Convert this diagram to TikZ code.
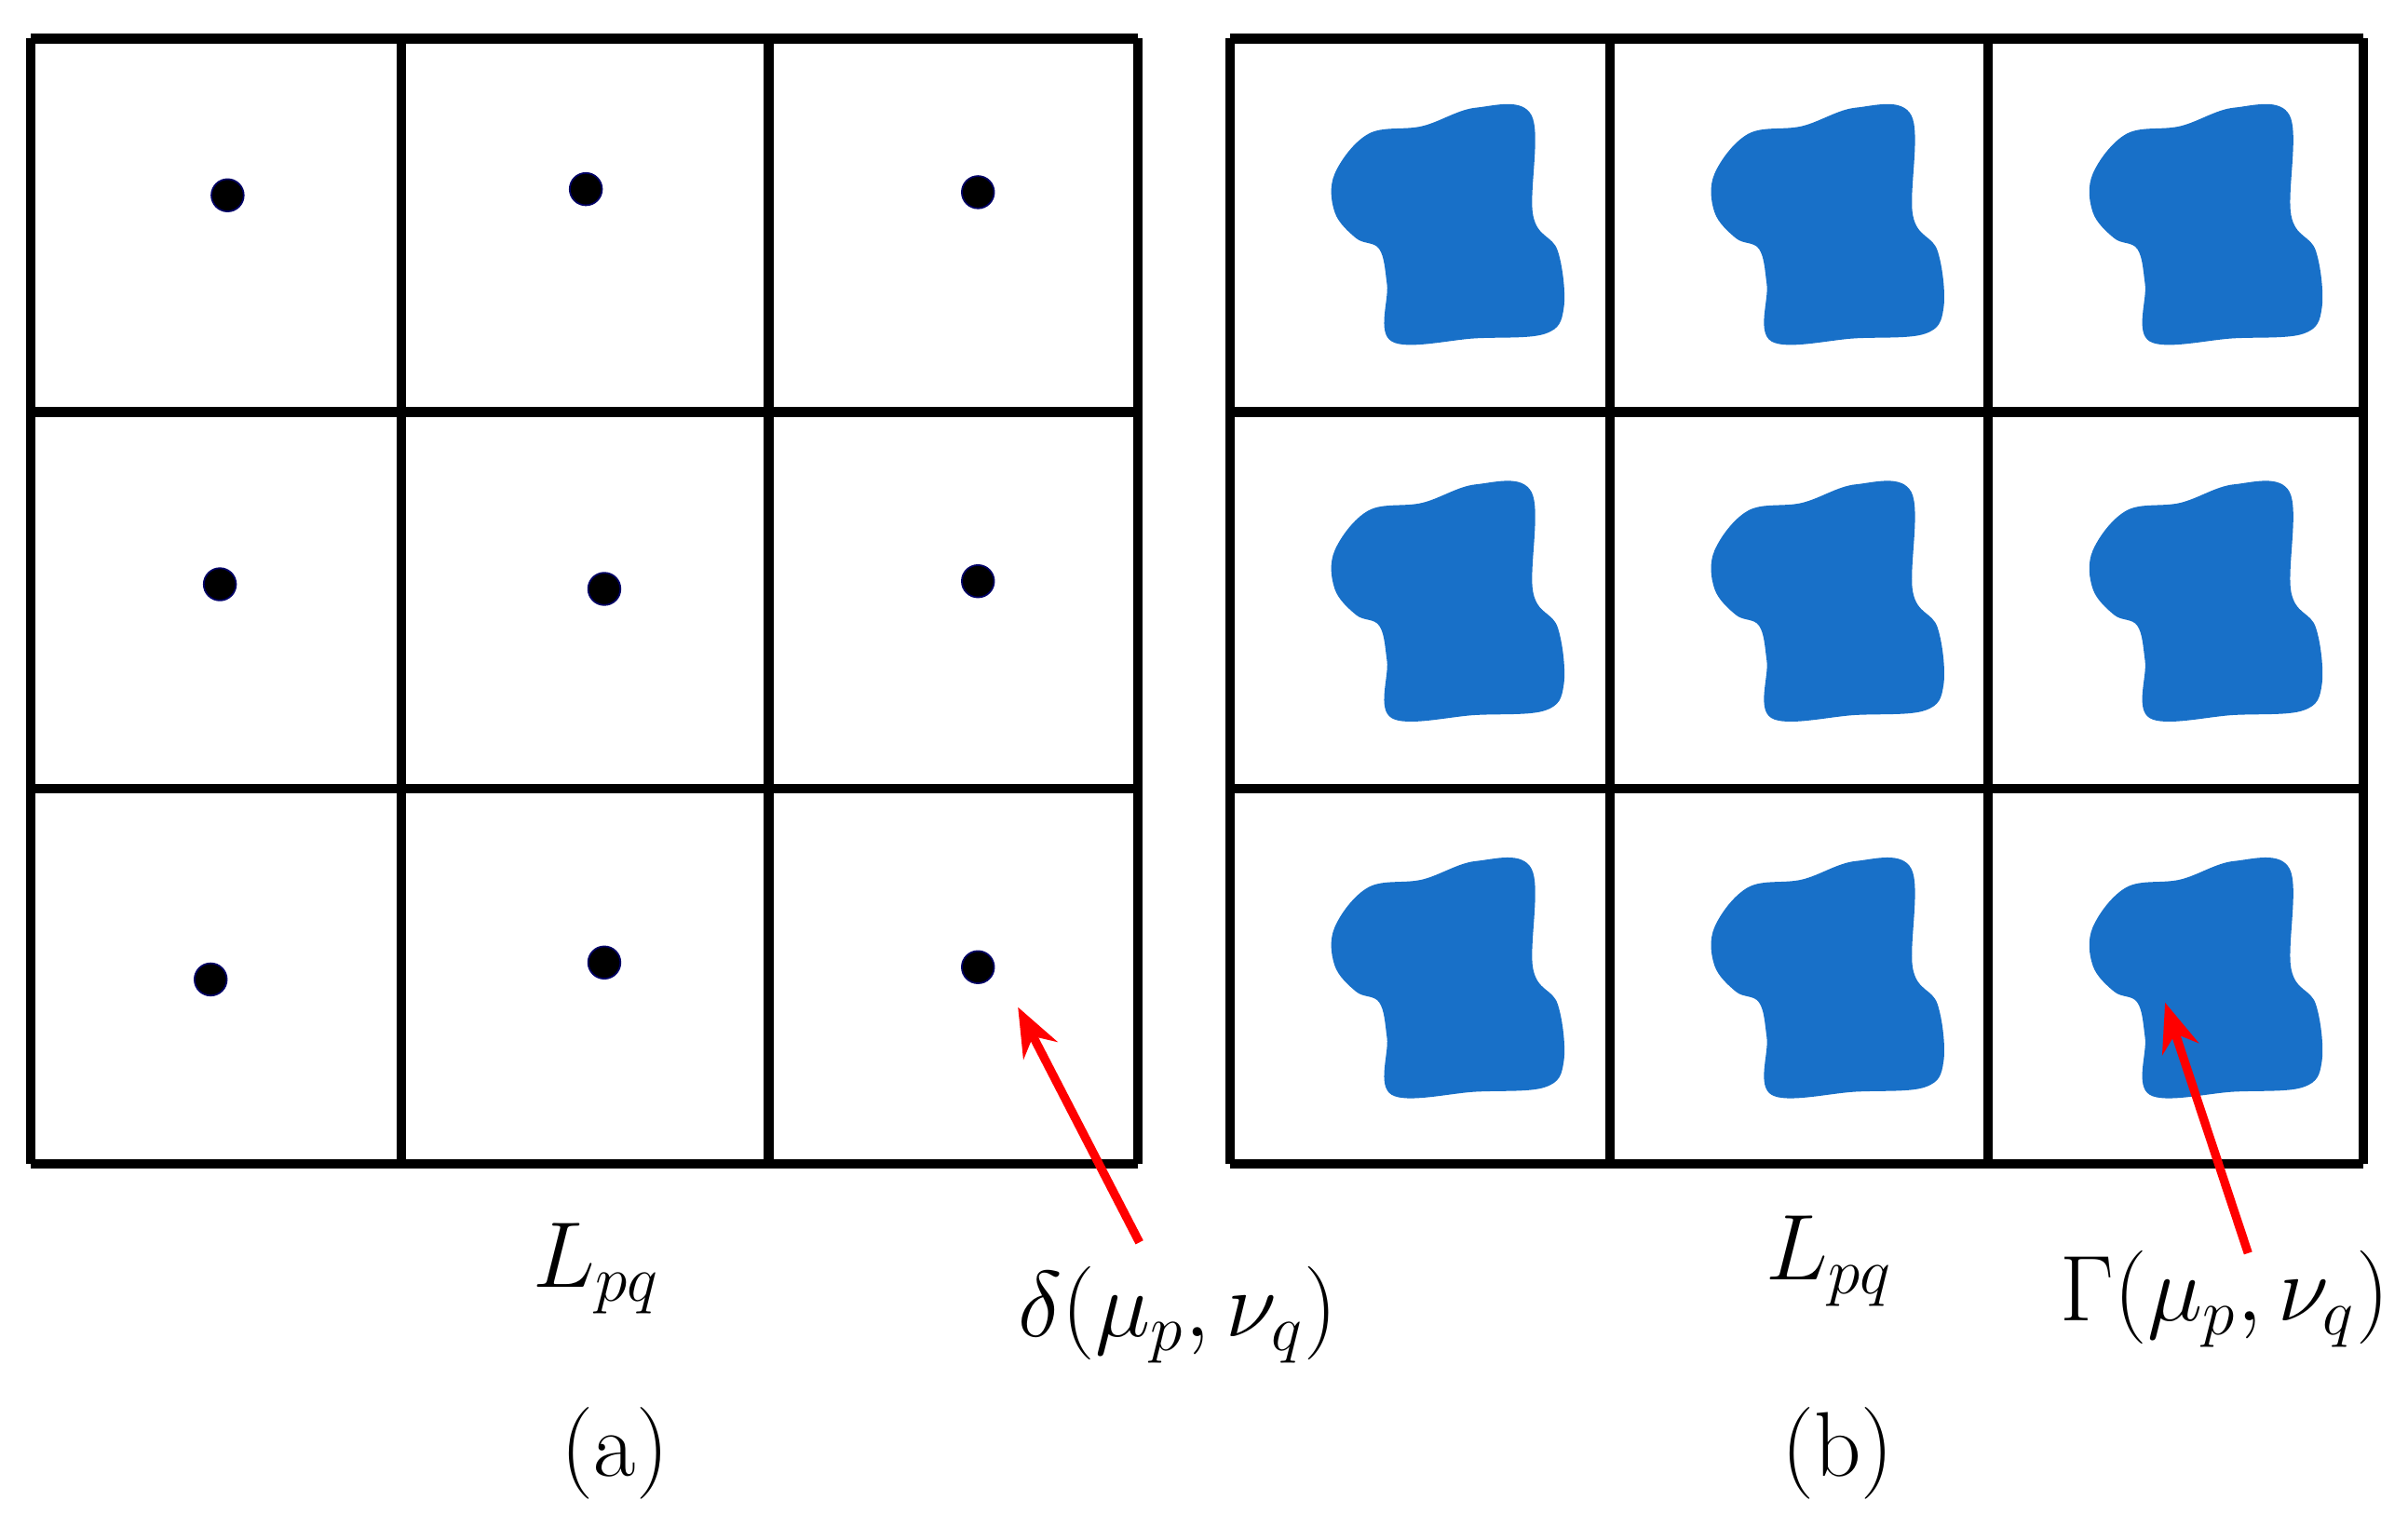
\documentclass[tikz,border=0pt]{standalone}
\usetikzlibrary{arrows.meta}
\definecolor{blobblue}{RGB}{24,112,200}
\begin{document}
\begin{tikzpicture}[x=0.01cm,y=-0.01cm,
  gridline/.style={line width=1.8pt,black},
  dotmark/.style={fill=black,draw=blue!40!black,line width=0.3pt},
  blob/.style={fill=blobblue,draw=none},
  redarrow/.style={red,line width=1.6pt,-{Stealth[length=9pt,width=7pt]}},
  lbl/.style={font=\fontsize{17}{20}\selectfont}]
\useasboundingbox (0,0) rectangle (1566,993);
% left grid
\foreach \x in {20,261,500,740} \draw[gridline] (\x,25) -- (\x,757);
\foreach \y in {25,268,513,757} \draw[gridline] (20,\y) -- (740,\y);
% right grid
\foreach \x in {800,1047,1293,1537} \draw[gridline] (\x,25) -- (\x,757);
\foreach \y in {25,268,513,757} \draw[gridline] (800,\y) -- (1537,\y);
% dots
\foreach \px/\py in {148/127,381/123,636/125,143/380,393/383,636/378,137/637,393/626,636/629}
  \fill[dotmark] (\px,\py) circle (10.5);
\coordinate (dtarget) at (662,655);
% blobs
\foreach \cx/\cy in {800/25,1047/25,1293/25,800/270,1047/270,1293/270,800/515,1047/515,1293/515}{
  \begin{scope}[shift={(\cx,\cy)}]
  \fill[blob] plot[smooth cycle,tension=0.6] coordinates {(90,62) (125,57) (160,45) (196,50) (197,115) (213,138) (217,175) (205,192) (160,195) (105,197) (102,160) (97,137) (82,130) (68,113) (68,88)};
  \end{scope}}
\coordinate (gtarget) at (1408,652);
% labels
\node[lbl] (l1) at (388,825) {$L_{pq}$};
\node[lbl] (l2) at (1190,820) {$L_{pq}$};
\node[lbl] (delta) at (766,855) {$\delta(\mu_p,\nu_q)$};
\node[lbl] (gamma) at (1447,845) {$\Gamma(\mu_p,\nu_q)$};
\node[lbl] (a) at (400,945) {(a)};
\node[lbl] (b) at (1195,945) {(b)};
\coordinate (da) at (741,808);
\coordinate (ga) at (1462,815);
\draw[redarrow] (da) -- (dtarget);
\draw[redarrow] (ga) -- (gtarget);
\end{tikzpicture}
\end{document}
